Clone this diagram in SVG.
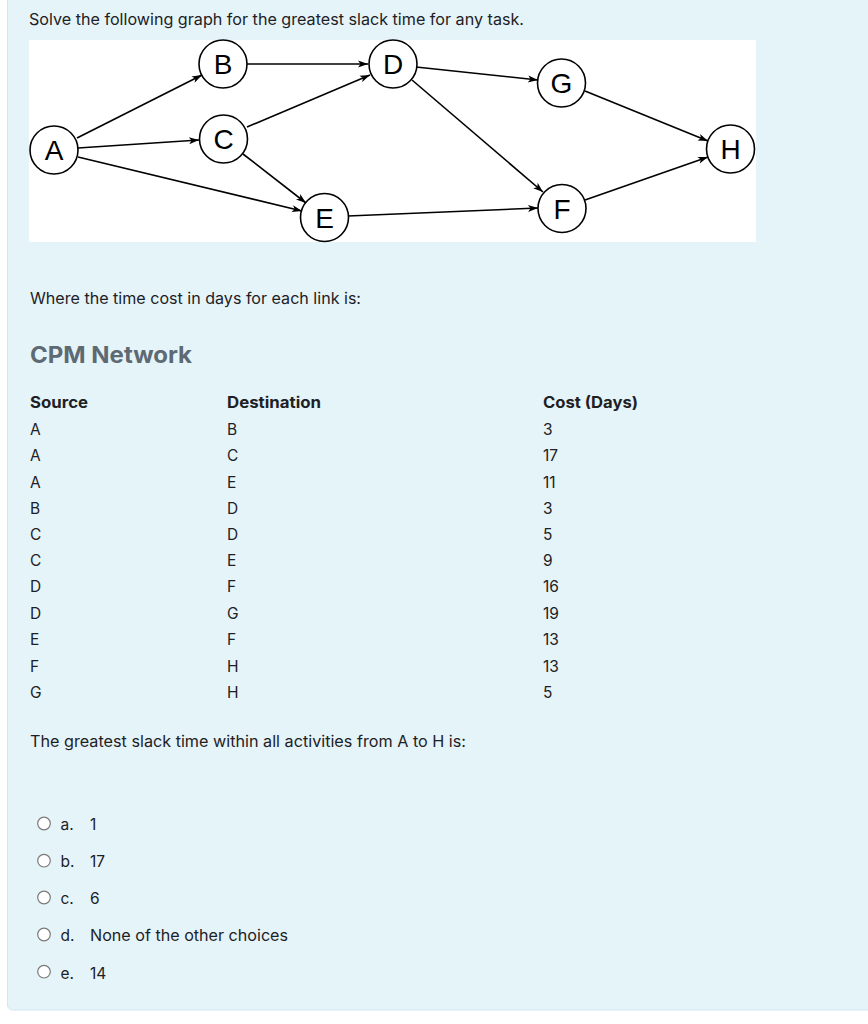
<svg xmlns="http://www.w3.org/2000/svg" width="868" height="1024" viewBox="0 0 868 1024">
  <defs>
    <marker id="arrow" viewBox="0 0 11 8" markerWidth="11" markerHeight="8" refX="10.5" refY="4" orient="auto" markerUnits="userSpaceOnUse">
      <path d="M0.5,0.5 L10.5,4 L0.5,7.5 L3,4 Z" fill="#000"/>
    </marker>
    <style>
      .body { font-family: Inter, "Liberation Sans", sans-serif; font-size: 15.5px; fill: #1d2125; }
      .bold { font-weight: bold; }
      .node circle { fill: #fff; stroke: #000; stroke-width: 1.6; }
      .node text { font-family: "Liberation Sans", Arial, sans-serif; font-size: 28px; fill: #000; text-anchor: middle; }
      .edge { stroke: #000; stroke-width: 1.6; fill: none; marker-end: url(#arrow); }
      .radio { fill: #fff; stroke: #7a7a7a; stroke-width: 1.2; }
    </style>
  </defs>

  <!-- page and question panel -->
  <rect x="0" y="0" width="868" height="1024" fill="#fff"/>
  <rect x="7.5" y="-10" width="872" height="1020" rx="5" fill="#e5f4f9" stroke="#d0e8f0" stroke-width="1"/>

  <text class="body" x="29" y="25" textLength="495" lengthAdjust="spacingAndGlyphs">Solve the following graph for the greatest slack time for any task.</text>

  <!-- network drawing -->
  <rect x="29" y="40" width="727" height="202" fill="#fff"/>

  <g id="connectors">
    <line class="edge" x1="77" y1="138" x2="202" y2="75"/>
    <line class="edge" x1="78" y1="148" x2="199" y2="140"/>
    <line class="edge" x1="78" y1="157" x2="302" y2="211"/>
    <line class="edge" x1="247" y1="64" x2="368" y2="64"/>
    <line class="edge" x1="247" y1="127" x2="370" y2="75"/>
    <line class="edge" x1="243" y1="154" x2="306" y2="203"/>
    <line class="edge" x1="416" y1="67" x2="538" y2="80"/>
    <line class="edge" x1="412" y1="80" x2="543" y2="192"/>
    <line class="edge" x1="348" y1="216" x2="538" y2="208"/>
    <line class="edge" x1="585" y1="91" x2="708" y2="141"/>
    <line class="edge" x1="585" y1="200" x2="708" y2="157"/>
  </g>

  <g id="node-A" class="node"><circle cx="54" cy="150" r="24"/><text x="54" y="160">A</text></g>
  <g id="node-B" class="node"><circle cx="223" cy="64" r="24"/><text x="223" y="74">B</text></g>
  <g id="node-C" class="node"><circle cx="223.5" cy="139" r="24"/><text x="223.5" y="149">C</text></g>
  <g id="node-D" class="node"><circle cx="393" cy="64" r="24"/><text x="393" y="74">D</text></g>
  <g id="node-E" class="node"><circle cx="324.5" cy="217.5" r="24"/><text x="324.5" y="227.5">E</text></g>
  <g id="node-G" class="node"><circle cx="561.5" cy="83" r="24"/><text x="561.5" y="93">G</text></g>
  <g id="node-F" class="node"><circle cx="562" cy="208.5" r="24"/><text x="562" y="218.5">F</text></g>
  <g id="node-H" class="node"><circle cx="730.5" cy="149" r="24"/><text x="730.5" y="159">H</text></g>

  <text class="body" x="30" y="304" textLength="331" lengthAdjust="spacingAndGlyphs">Where the time cost in days for each link is:</text>

  <text x="30" y="363" font-family="Inter, 'Liberation Sans', sans-serif" font-size="23" font-weight="bold" fill="#5d6a73" textLength="162" lengthAdjust="spacingAndGlyphs">CPM Network</text>

  <!-- link cost table -->
  <g id="table" class="body">
    <text class="bold" x="30" y="408" textLength="58" lengthAdjust="spacingAndGlyphs">Source</text>
    <text class="bold" x="227" y="408" textLength="94" lengthAdjust="spacingAndGlyphs">Destination</text>
    <text class="bold" x="543" y="408" textLength="95" lengthAdjust="spacingAndGlyphs">Cost (Days)</text>

    <text x="30" y="435">A</text><text x="227" y="435">B</text><text x="543" y="435">3</text>
    <text x="30" y="461">A</text><text x="227" y="461">C</text><text x="543" y="461">17</text>
    <text x="30" y="487.5">A</text><text x="227" y="487.5">E</text><text x="543" y="487.5">11</text>
    <text x="30" y="513.5">B</text><text x="227" y="513.5">D</text><text x="543" y="513.5">3</text>
    <text x="30" y="539.5">C</text><text x="227" y="539.5">D</text><text x="543" y="539.5">5</text>
    <text x="30" y="566">C</text><text x="227" y="566">E</text><text x="543" y="566">9</text>
    <text x="30" y="592">D</text><text x="227" y="592">F</text><text x="543" y="592">16</text>
    <text x="30" y="618.5">D</text><text x="227" y="618.5">G</text><text x="543" y="618.5">19</text>
    <text x="30" y="645">E</text><text x="227" y="645">F</text><text x="543" y="645">13</text>
    <text x="30" y="671.5">F</text><text x="227" y="671.5">H</text><text x="543" y="671.5">13</text>
    <text x="30" y="697.5">G</text><text x="227" y="697.5">H</text><text x="543" y="697.5">5</text>
  </g>

  <text class="body" x="30" y="747" textLength="436" lengthAdjust="spacingAndGlyphs">The greatest slack time within all activities from A to H is:</text>

  <!-- answer choices -->
  <g id="choices" class="body">
    <circle class="radio" cx="44" cy="823.5" r="6.3"/>
    <text x="60.5" y="830">a.</text><text x="90" y="830">1</text>
    <circle class="radio" cx="44" cy="860.7" r="6.3"/>
    <text x="60.5" y="867">b.</text><text x="90" y="867">17</text>
    <circle class="radio" cx="44" cy="897.5" r="6.3"/>
    <text x="60.5" y="904">c.</text><text x="90" y="904">6</text>
    <circle class="radio" cx="44" cy="934.5" r="6.3"/>
    <text x="60.5" y="941">d.</text><text x="90" y="941" textLength="198" lengthAdjust="spacingAndGlyphs">None of the other choices</text>
    <circle class="radio" cx="44" cy="971.7" r="6.3"/>
    <text x="60.5" y="978.5">e.</text><text x="90" y="978.5">14</text>
  </g>
</svg>
